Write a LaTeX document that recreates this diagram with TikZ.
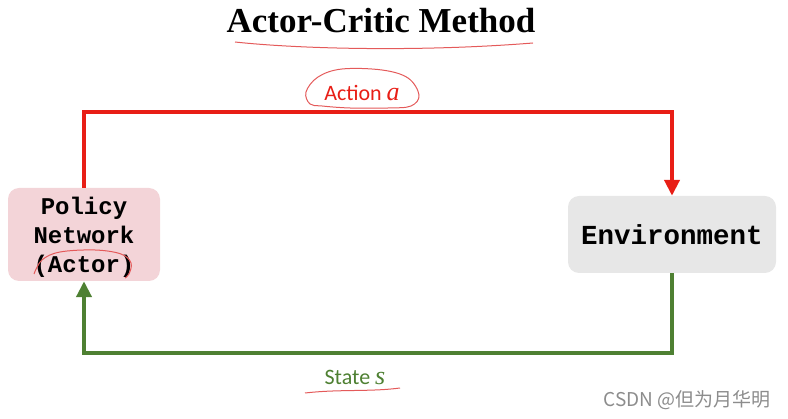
\documentclass[tikz,border=0pt]{standalone}
\usepackage{fontspec}
\usepackage{tikz}
\usetikzlibrary{arrows.meta}
\newfontfamily\titlefont{Liberation Serif}
\newfontfamily\boxfont{Liberation Mono}
\newfontfamily\labelfont{Carlito}
\newfontfamily\cjkfont{Noto Sans CJK SC}
\newcommand{\varit}[1]{{\titlefont\itshape\fontsize{26}{26}\selectfont #1}}
\definecolor{actred}{RGB}{232,30,22}
\definecolor{stategreen}{RGB}{78,128,50}
\definecolor{penred}{RGB}{228,90,90}
\definecolor{actorpink}{RGB}{243,212,216}
\definecolor{envgray}{RGB}{231,231,231}

\begin{document}
\begin{tikzpicture}[x=1pt,y=-1pt]
    \tikzstyle{block}=[rounded corners=11pt,inner sep=0pt,align=center]
    \tikzstyle{actor block}=[block,fill=actorpink,minimum width=152pt,minimum height=93pt,
        text depth=0pt,font=\boxfont\bfseries\fontsize{24}{29}\selectfont]
    \tikzstyle{env block}=[block,fill=envgray,minimum width=208pt,minimum height=77pt,
        font=\boxfont\bfseries\fontsize{27.5}{30}\selectfont]
    \tikzstyle{action line}=[draw=actred,line width=4pt,-{Triangle[width=15pt,length=16pt]}]
    \tikzstyle{state line}=[draw=stategreen,line width=4pt,-{Triangle[width=15pt,length=16pt]}]
    \tikzstyle{pen}=[penred,line width=1pt]

    \useasboundingbox (0,0) rectangle (788,419);

    % Title
    \node[font=\titlefont\bfseries\fontsize{35}{40}\selectfont] (title) at (381,21) {Actor-Critic Method};

    % The two boxes
    \node[actor block] (P) at (84,234.5) {Policy\\Network\\(Actor)};
    \node[env block] (E) at (672,234.5) {Environment};

    % Labels on the loop
    \node[font=\labelfont\fontsize{22}{26}\selectfont,text=actred] (act) at (362,93) {Action \varit{a}};
    \node[font=\labelfont\fontsize{22}{26}\selectfont,text=stategreen] (st) at (355,377) {State \varit{s}};

    % Action goes from actor to environment, state comes back
    \coordinate (ta) at (380,112);
    \coordinate (sb) at (380,353);
    \draw[action line] (P.north) |- (ta) -| (E.north);
    \draw[state line] (E.south) |- (sb) -| (P.south);

    % Pen marks
    \draw[pen] (235,42) .. controls (300,49) and (420,52) .. (533,43);
    \draw[pen] plot[smooth cycle,tension=0.6] coordinates {(310,104) (306,92) (318,77) (342,69) (382,70) (408,78) (419,95) (411,106) (388,108) (350,108) (322,106)};
    \draw[pen] plot[smooth,tension=0.6] coordinates {(34,274) (42,260) (60,252) (95,250) (121,254) (131,263) (129,274) (125,278)};
    \draw[pen] (305,393) .. controls (340,389) and (370,392) .. (400,388);

    % Watermark
    \node[font=\cjkfont\fontsize{19}{22}\selectfont,text=black!45,anchor=east] (mark) at (774,400) {CSDN @但为月华明};
\end{tikzpicture}
\end{document}
